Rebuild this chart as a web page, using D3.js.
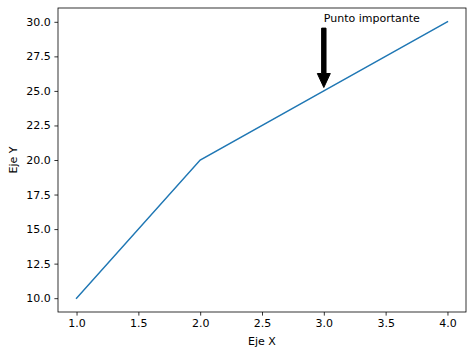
<!DOCTYPE html>
<html>
<head>
<meta charset="utf-8">
<script src="https://cdn.jsdelivr.net/npm/d3@7"></script>
<style>
  body { margin: 0; background: #fff; }
  svg text { font-family: "DejaVu Sans", sans-serif; fill: #000; }
  .axis path, .axis line { stroke: #000; stroke-width: 0.8; }
</style>
</head>
<body>
<div id="chart"></div>
<script>
// data
var xValues = [1, 2, 3, 4];
var yValues = [10, 20, 25, 30];
var xTicks = [1.0, 1.5, 2.0, 2.5, 3.0, 3.5, 4.0];
var yTicks = [10.0, 12.5, 15.0, 17.5, 20.0, 22.5, 25.0, 27.5, 30.0];
var note = { text: "Punto importante", x: 3, y: 30, targetX: 3, targetY: 25 };

var margin = { top: 8, right: 8, bottom: 43, left: 58 },
  width = 474 - margin.left - margin.right,
  height = 355 - margin.top - margin.bottom;

var fontSize = "11px";

var x = d3.scaleLinear().domain([0.85, 4.15]).range([0, width]);
var y = d3.scaleLinear().domain([9, 31]).range([height, 0]);

var svg = d3.select("#chart")
  .append("svg")
  .attr("width", 474)
  .attr("height", 355)
  .append("g")
  .attr("transform", "translate(" + margin.left + "," + margin.top + ")");

// the line
var line = d3.line()
  .x(function (d, i) { return x(xValues[i]); })
  .y(function (d) { return y(d); });

svg.append("path")
  .datum(yValues)
  .attr("fill", "none")
  .attr("stroke", "#1f77b4")
  .attr("stroke-width", 1.5)
  .attr("stroke-linecap", "square")
  .attr("d", line);

// axes
svg.append("g")
  .attr("class", "axis")
  .attr("transform", "translate(0," + height + ")")
  .call(d3.axisBottom(x).tickValues(xTicks).tickFormat(d3.format(".1f")).tickSize(3.6).tickPadding(3.6));

svg.append("g")
  .attr("class", "axis")
  .call(d3.axisLeft(y).tickValues(yTicks).tickFormat(d3.format(".1f")).tickSize(3.6).tickPadding(3.6));

svg.selectAll(".axis .domain").remove();
svg.selectAll(".axis text").style("font-size", fontSize).style("fill", "#000");

// frame
svg.append("rect")
  .attr("width", width)
  .attr("height", height)
  .attr("fill", "none")
  .attr("stroke", "#000")
  .attr("stroke-width", 0.8);

// axis labels
svg.append("text")
  .attr("x", width / 2)
  .attr("y", height + 33)
  .attr("text-anchor", "middle")
  .style("font-size", fontSize)
  .text("Eje X");

svg.append("text")
  .attr("transform", "translate(" + (-41) + "," + (height / 2) + ") rotate(-90)")
  .attr("text-anchor", "middle")
  .style("font-size", fontSize)
  .text("Eje Y");

// annotation
svg.append("text")
  .attr("x", x(note.x))
  .attr("y", y(note.y))
  .style("font-size", fontSize)
  .text(note.text);

// arrow starts just below the text box and stops a bit short of the point
var ax = x(note.targetX),
  yEnd = y(note.targetY),
  arrowTop = y(note.y) + 6.3,
  arrowTip = yEnd - 3.4,
  shaftW = 2.2, headW = 6.5, headL = 14;

svg.append("path")
  .attr("d", "M" + (ax - shaftW) + "," + arrowTop +
    "L" + (ax + shaftW) + "," + arrowTop +
    "L" + (ax + shaftW) + "," + (arrowTip - headL) +
    "L" + (ax + headW) + "," + (arrowTip - headL) +
    "L" + ax + "," + arrowTip +
    "L" + (ax - headW) + "," + (arrowTip - headL) +
    "L" + (ax - shaftW) + "," + (arrowTip - headL) + "Z")
  .attr("fill", "#000")
  .attr("stroke", "#000")
  .attr("stroke-width", 1);
</script>
</body>
</html>
